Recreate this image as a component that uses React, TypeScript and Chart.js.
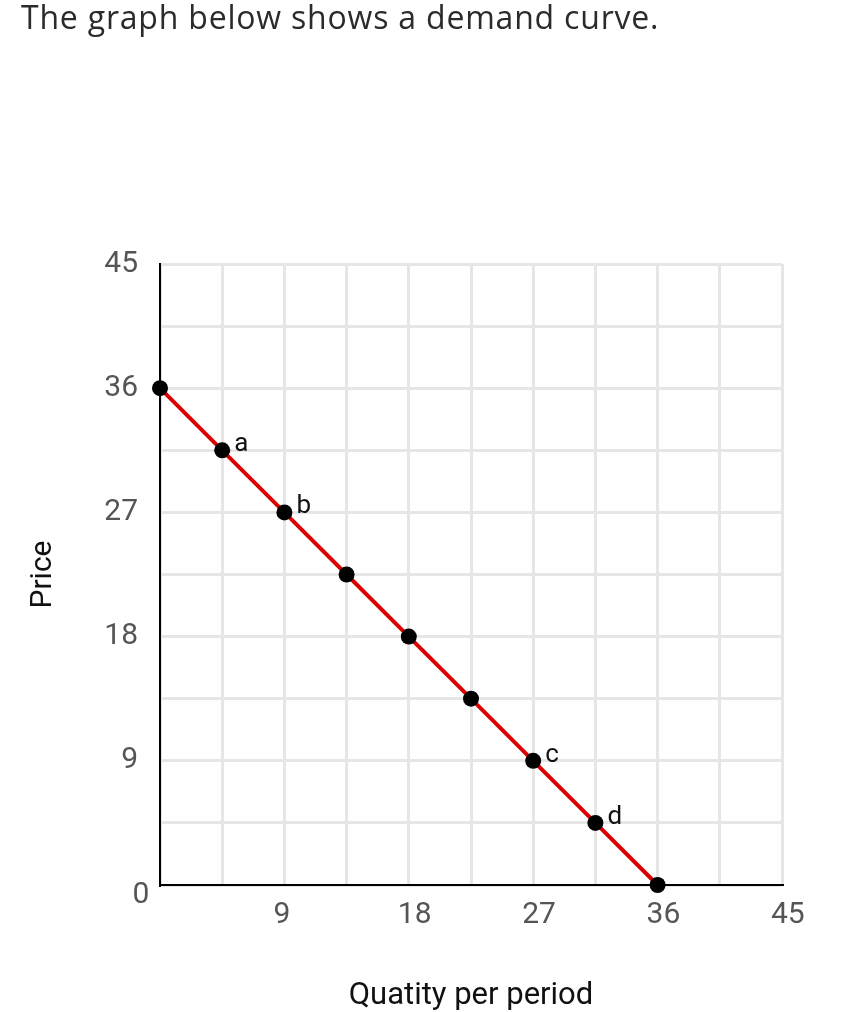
import React, { useEffect, useRef } from 'react';
import { Chart, registerables } from 'chart.js';

Chart.register(...registerables);

const titleText = 'The graph below shows a demand curve.';
const xAxisTitle = 'Quatity per period';
const yAxisTitle = 'Price';
const quantity = [0, 4.5, 9, 13.5, 18, 22.5, 27, 31.5, 36];
const price = [36, 31.5, 27, 22.5, 18, 13.5, 9, 4.5, 0];
const pointLabels = ['', 'a', 'b', '', '', '', 'c', 'd', ''];
const axisMin = 0;
const axisMax = 45;
const gridStep = 4.5;
const majorTicks = [9, 18, 27, 36, 45];
const originLabel = '0';

const tickLabel = (v: number | string) => {
  const n = Math.round(Number(v) * 10) / 10;
  return majorTicks.includes(n) ? String(n) : '';
};

export default function App() {
  const ref = useRef<HTMLCanvasElement>(null);

  useEffect(() => {
    document.body.style.margin = '0';
    if (!ref.current) return;

    const labelPlugin = {
      id: 'pointLabelsAndOrigin',
      afterDatasetsDraw(chart: any) {
        const ctx = chart.ctx;
        const meta = chart.getDatasetMeta(0);
        ctx.save();
        ctx.font = '400 26px Roboto';
        ctx.fillStyle = '#111';
        ctx.textAlign = 'left';
        ctx.textBaseline = 'alphabetic';
        meta.data.forEach((el: any, i: number) => {
          const t = pointLabels[i];
          if (t) ctx.fillText(t, el.x + 12, el.y + 1);
        });
        const { left, bottom } = chart.chartArea;
        ctx.font = '400 30px Roboto';
        ctx.fillStyle = '#555';
        ctx.textAlign = 'center';
        ctx.textBaseline = 'middle';
        ctx.fillText(originLabel, left - 19, bottom + 10);
        ctx.restore();
      },
    };

    const chart = new Chart(ref.current, {
      type: 'scatter',
      data: {
        datasets: [
          {
            data: quantity.map((q, i) => ({ x: q, y: price[i] })),
            showLine: true,
            borderColor: '#dd0000',
            borderWidth: 4,
            pointBackgroundColor: '#000',
            pointBorderColor: '#000',
            pointRadius: 8,
            pointBorderWidth: 0,
            clip: false as any,
          },
        ],
      },
      options: {
        responsive: false,
        animation: false,
        devicePixelRatio: 1,
        layout: { padding: { top: 264, right: 64, bottom: 0, left: 0 } },
        plugins: { legend: { display: false }, tooltip: { enabled: false } },
        scales: {
          x: {
            type: 'linear',
            position: 'bottom',
            min: axisMin,
            max: axisMax,
            ticks: {
              stepSize: gridStep,
              autoSkip: false,
              maxRotation: 0,
              align: 'start',
              labelOffset: -11,
              padding: 12,
              color: '#555',
              font: { size: 30, family: 'Roboto' },
              callback: tickLabel,
            },
            grid: { color: '#e6e6e6', lineWidth: 3, drawTicks: false },
            border: { color: '#000', width: 2 },
            title: {
              display: true,
              text: xAxisTitle,
              color: '#111',
              font: { size: 31, family: 'Roboto', lineHeight: 1 },
              padding: { top: 0, bottom: 0 },
            },
            afterFit: (s: any) => {
              s.height = 127;
            },
          },
          y: {
            type: 'linear',
            position: 'left',
            min: axisMin,
            max: axisMax,
            ticks: {
              stepSize: gridStep,
              autoSkip: false,
              padding: 22,
              color: '#555',
              font: { size: 30, family: 'Roboto' },
              callback: tickLabel,
            },
            grid: { color: '#e6e6e6', lineWidth: 3, drawTicks: false },
            border: { color: '#000', width: 2 },
            title: {
              display: true,
              text: yAxisTitle,
              color: '#111',
              font: { size: 30, family: 'Roboto', lineHeight: 1 },
              padding: { top: 28, bottom: 0 },
            },
            afterFit: (s: any) => {
              s.width = 160;
            },
          },
        },
      },
      plugins: [labelPlugin],
    });

    return () => chart.destroy();
  }, []);

  return (
    <div
      style={{
        position: 'absolute',
        left: 0,
        top: 0,
        width: 846,
        height: 1012,
        background: '#fff',
        overflow: 'hidden',
      }}
    >
      <canvas
        ref={ref}
        width={846}
        height={1012}
        style={{ position: 'absolute', left: 0, top: 0, width: 846, height: 1012 }}
      />
      <div
        style={{
          position: 'absolute',
          left: 21,
          top: -5,
          fontFamily: '"Open Sans", sans-serif',
          fontSize: 32,
          fontWeight: 400,
          letterSpacing: '0.8px',
          lineHeight: 'normal',
          color: '#2b2b2b',
          whiteSpace: 'nowrap',
        }}
      >
        {titleText}
      </div>
    </div>
  );
}
